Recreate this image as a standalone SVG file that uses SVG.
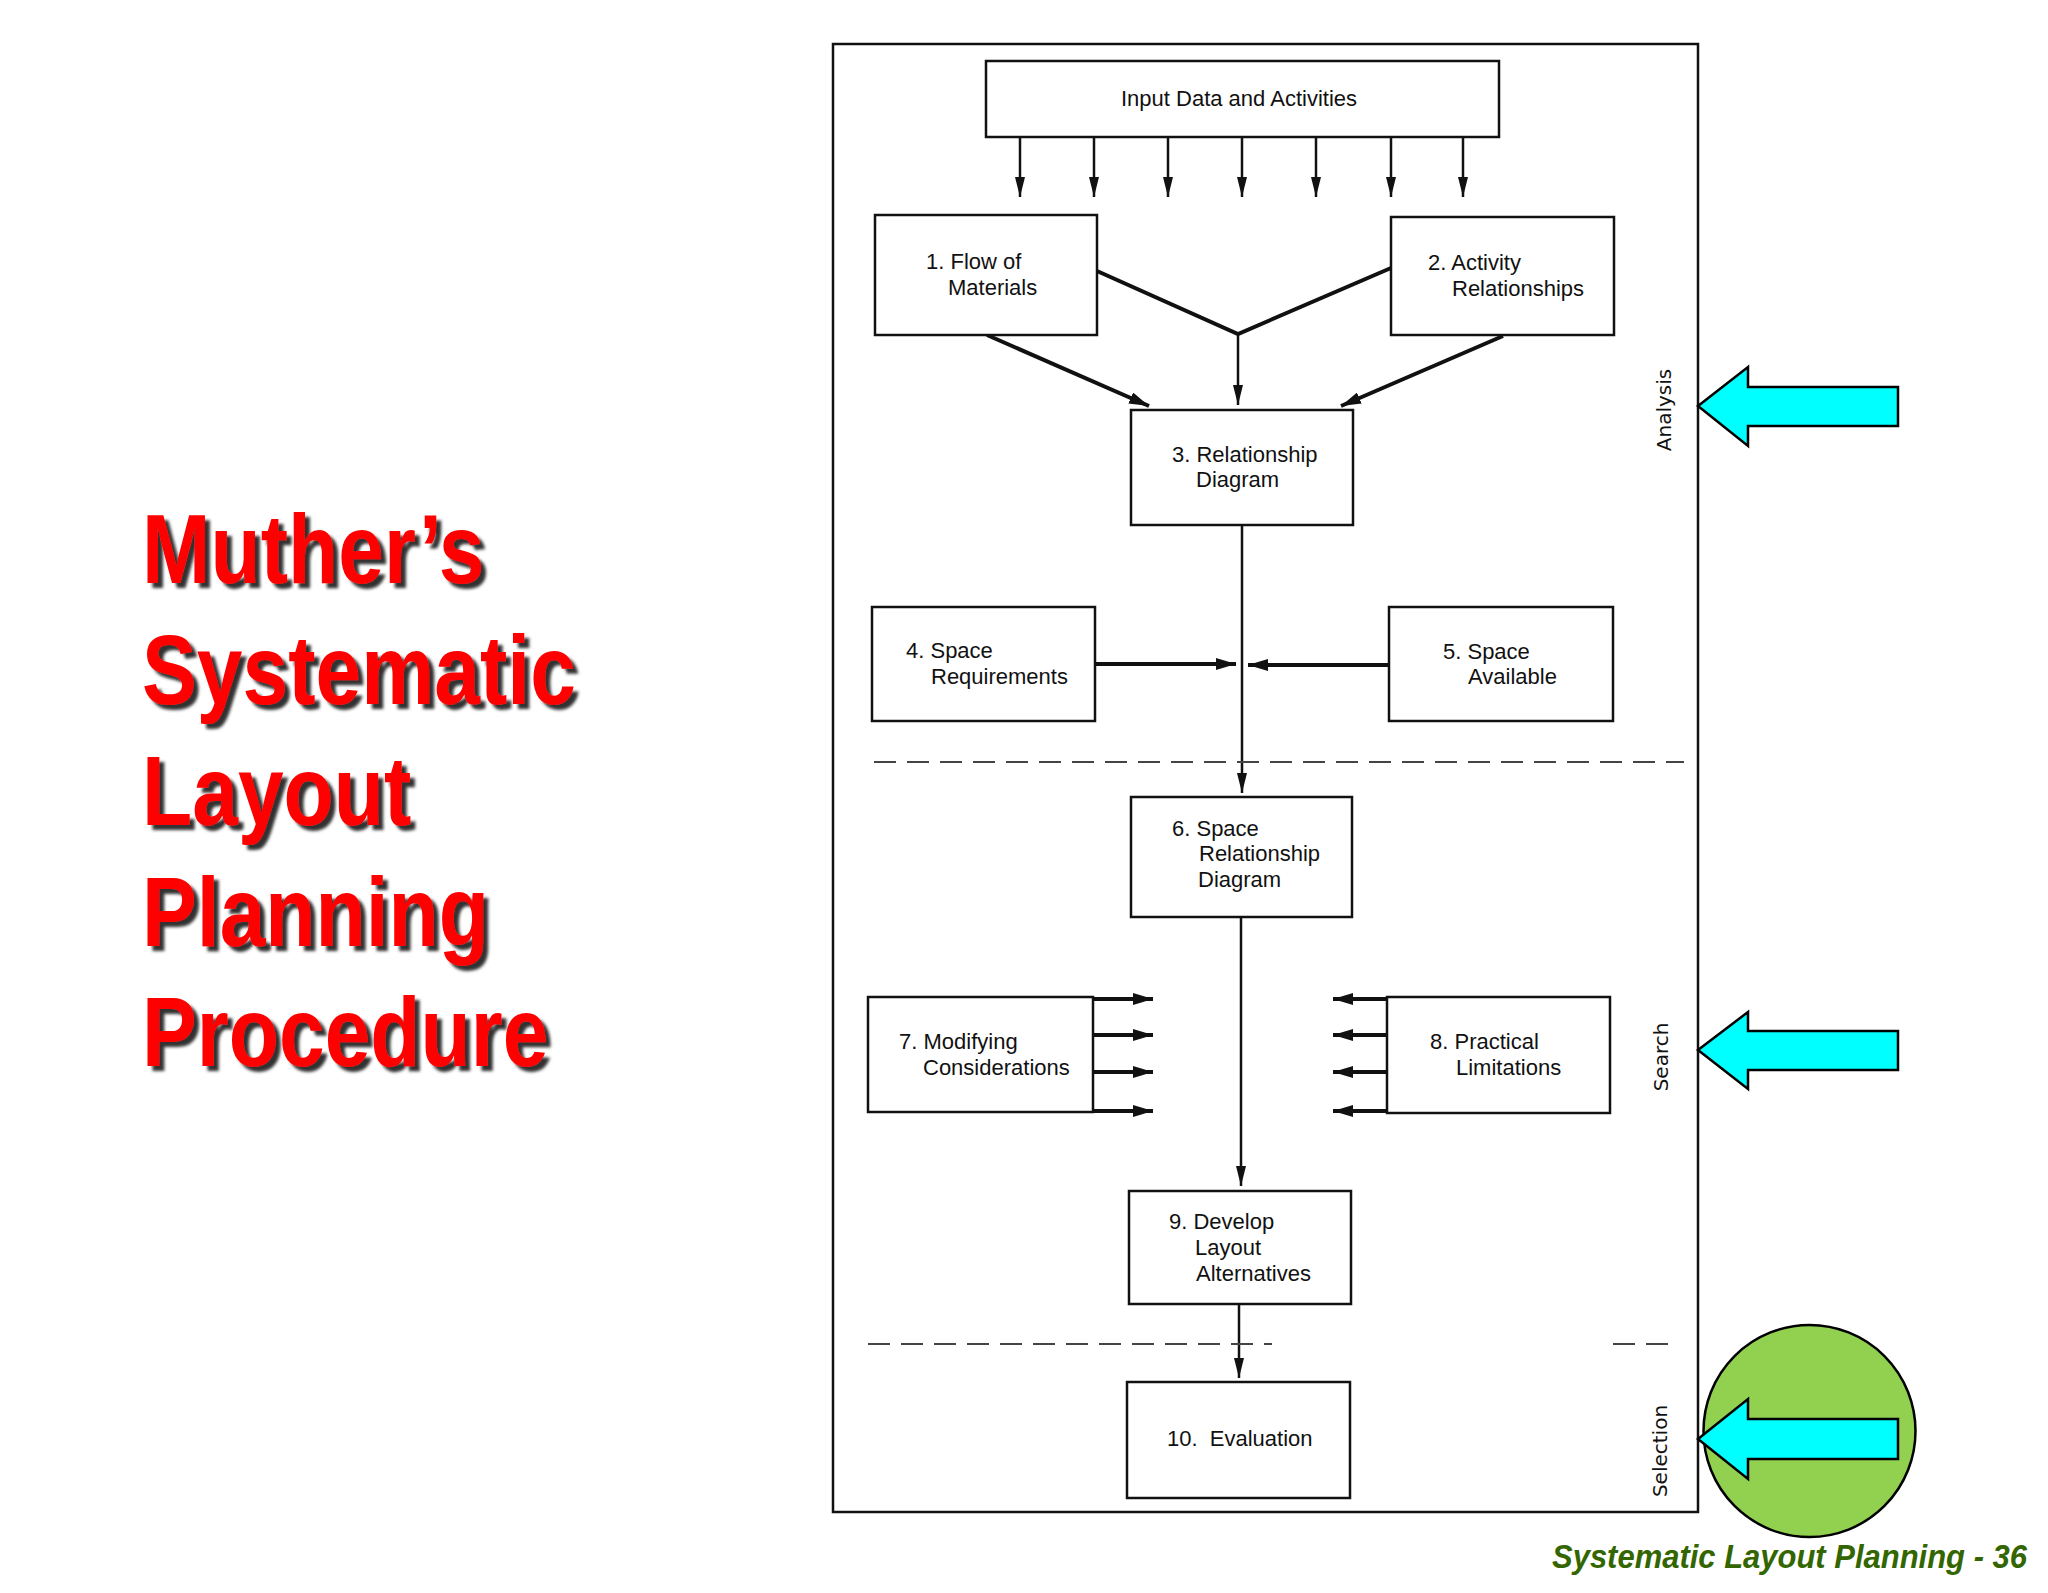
<svg xmlns="http://www.w3.org/2000/svg" width="2048" height="1593" viewBox="0 0 2048 1593">
<style>
.box{fill:#fff;stroke:#111;stroke-width:2.5}
.t{font-family:"Liberation Sans",Arial,sans-serif;font-size:22px;fill:#111}
.side{font-family:"DejaVu Sans",Verdana,sans-serif;font-size:20px;fill:#111;text-anchor:middle}
.thin{stroke:#111;stroke-width:2.5;fill:none}
.thick{stroke:#111;stroke-width:4;fill:none}
.dash{stroke:#444;stroke-width:2;stroke-dasharray:22 11;fill:none}
.cyan{fill:#00FFFF;stroke:#000;stroke-width:2.5;stroke-linejoin:miter}
.title{font-family:"Liberation Sans",Arial,sans-serif;font-weight:bold;font-size:99px;fill:#FF0000}
</style>
<defs>
<marker id="ah" viewBox="0 0 20 10" refX="20" refY="5" markerWidth="20" markerHeight="10" markerUnits="userSpaceOnUse" orient="auto">
<path d="M0,0 L20,5 L0,10 z" fill="#111"/>
</marker>
<marker id="ahb" viewBox="0 0 20 12" refX="20" refY="6" markerWidth="20" markerHeight="12" markerUnits="userSpaceOnUse" orient="auto">
<path d="M0,0 L20,6 L0,12 z" fill="#111"/>
</marker>
<filter id="shadow" x="-10%" y="-10%" width="130%" height="140%">
<feGaussianBlur in="SourceAlpha" stdDeviation="1.5"/>
<feOffset dx="5" dy="5" result="o"/>
<feFlood flood-color="#333"/>
<feComposite in2="o" operator="in"/>
<feMerge><feMergeNode/><feMergeNode in="SourceGraphic"/></feMerge>
</filter>
</defs>
<rect width="2048" height="1593" fill="#fff"/>

<g id="title" filter="url(#shadow)">
<text class="title" transform="translate(142 583) scale(0.83 1)">Muther’s</text>
<text class="title" transform="translate(142 704) scale(0.83 1)">Systematic</text>
<text class="title" transform="translate(142 825) scale(0.83 1)">Layout</text>
<text class="title" transform="translate(142 946) scale(0.83 1)">Planning</text>
<text class="title" transform="translate(142 1066) scale(0.83 1)">Procedure</text>
</g>

<rect id="frame" x="833" y="44" width="865" height="1468" fill="none" stroke="#111" stroke-width="2.5"/>

<g id="connectors">
<line class="thin" x1="1020" y1="137" x2="1020" y2="197" marker-end="url(#ah)"/>
<line class="thin" x1="1094" y1="137" x2="1094" y2="197" marker-end="url(#ah)"/>
<line class="thin" x1="1168" y1="137" x2="1168" y2="197" marker-end="url(#ah)"/>
<line class="thin" x1="1242" y1="137" x2="1242" y2="197" marker-end="url(#ah)"/>
<line class="thin" x1="1316" y1="137" x2="1316" y2="197" marker-end="url(#ah)"/>
<line class="thin" x1="1391" y1="137" x2="1391" y2="197" marker-end="url(#ah)"/>
<line class="thin" x1="1463" y1="137" x2="1463" y2="197" marker-end="url(#ah)"/>
<polyline class="thick" points="1097,271 1238,334 1391,268"/>
<line class="thin" x1="1238" y1="334" x2="1238" y2="405" marker-end="url(#ah)"/>
<line class="thick" x1="987" y1="335" x2="1149" y2="406" marker-end="url(#ahb)"/>
<line class="thick" x1="1503" y1="336" x2="1341" y2="406" marker-end="url(#ahb)"/>
<line class="thin" x1="1242" y1="525" x2="1242" y2="793" marker-end="url(#ah)"/>
<line class="thick" x1="1095" y1="664" x2="1236" y2="664" marker-end="url(#ahb)"/>
<line class="thick" x1="1389" y1="665" x2="1248" y2="665" marker-end="url(#ahb)"/>
<line class="dash" x1="874" y1="762" x2="1684" y2="762"/>
<line class="thin" x1="1241" y1="917" x2="1241" y2="1186" marker-end="url(#ah)"/>
<line class="thick" x1="1093" y1="999" x2="1153" y2="999" marker-end="url(#ahb)"/>
<line class="thick" x1="1093" y1="1035" x2="1153" y2="1035" marker-end="url(#ahb)"/>
<line class="thick" x1="1093" y1="1072" x2="1153" y2="1072" marker-end="url(#ahb)"/>
<line class="thick" x1="1093" y1="1111" x2="1153" y2="1111" marker-end="url(#ahb)"/>
<line class="thick" x1="1387" y1="999" x2="1333" y2="999" marker-end="url(#ahb)"/>
<line class="thick" x1="1387" y1="1035" x2="1333" y2="1035" marker-end="url(#ahb)"/>
<line class="thick" x1="1387" y1="1072" x2="1333" y2="1072" marker-end="url(#ahb)"/>
<line class="thick" x1="1387" y1="1111" x2="1333" y2="1111" marker-end="url(#ahb)"/>
<line class="thin" x1="1239" y1="1304" x2="1239" y2="1378" marker-end="url(#ah)"/>
<line class="dash" x1="868" y1="1344" x2="1272" y2="1344"/>
<line class="dash" x1="1613" y1="1344" x2="1670" y2="1344"/>
</g>

<g id="input">
<rect class="box" x="986" y="61" width="513" height="76"/>
<text class="t" x="1239" y="106" text-anchor="middle">Input Data and Activities</text>
</g>
<g id="n1">
<rect class="box" x="875" y="215" width="222" height="120"/>
<text class="t" x="926" y="269">1. Flow of</text>
<text class="t" x="948" y="295">Materials</text>
</g>
<g id="n2">
<rect class="box" x="1391" y="217" width="223" height="118"/>
<text class="t" x="1428" y="270">2. Activity</text>
<text class="t" x="1452" y="296">Relationships</text>
</g>
<g id="n3">
<rect class="box" x="1131" y="410" width="222" height="115"/>
<text class="t" x="1172" y="462">3. Relationship</text>
<text class="t" x="1196" y="487">Diagram</text>
</g>
<g id="n4">
<rect class="box" x="872" y="607" width="223" height="114"/>
<text class="t" x="906" y="658">4. Space</text>
<text class="t" x="931" y="684">Requirements</text>
</g>
<g id="n5">
<rect class="box" x="1389" y="607" width="224" height="114"/>
<text class="t" x="1443" y="659">5. Space</text>
<text class="t" x="1468" y="684">Available</text>
</g>
<g id="n6">
<rect class="box" x="1131" y="797" width="221" height="120"/>
<text class="t" x="1172" y="836">6. Space</text>
<text class="t" x="1199" y="861">Relationship</text>
<text class="t" x="1198" y="887">Diagram</text>
</g>
<g id="n7">
<rect class="box" x="868" y="997" width="225" height="115"/>
<text class="t" x="899" y="1049">7. Modifying</text>
<text class="t" x="923" y="1075">Considerations</text>
</g>
<g id="n8">
<rect class="box" x="1387" y="997" width="223" height="116"/>
<text class="t" x="1430" y="1049">8. Practical</text>
<text class="t" x="1456" y="1075">Limitations</text>
</g>
<g id="n9">
<rect class="box" x="1129" y="1191" width="222" height="113"/>
<text class="t" x="1169" y="1229">9. Develop</text>
<text class="t" x="1195" y="1255">Layout</text>
<text class="t" x="1196" y="1281">Alternatives</text>
</g>
<g id="n10">
<rect class="box" x="1127" y="1382" width="223" height="116"/>
<text class="t" x="1167" y="1446" xml:space="preserve">10.  Evaluation</text>
</g>

<g id="labels">
<text class="side" transform="translate(1671,410) rotate(-90)">Analysis</text>
<text class="side" transform="translate(1668,1057) rotate(-90)">Search</text>
<text class="side" transform="translate(1667,1451) rotate(-90)">Selection</text>
</g>

<circle id="selection-circle" cx="1809.5" cy="1431" r="106" fill="#92D050" stroke="#000" stroke-width="2.5"/>
<g id="cyan-arrows">
<polygon class="cyan" points="1698,406 1748,367 1748,387 1898,387 1898,426 1748,426 1748,446"/>
<polygon class="cyan" points="1698,1050 1748,1012 1748,1031 1898,1031 1898,1070 1748,1070 1748,1089"/>
<polygon class="cyan" points="1698,1439 1748,1399 1748,1419 1898,1419 1898,1459 1748,1459 1748,1479"/>
</g>

<text id="footer" x="1552" y="1568" textLength="475" lengthAdjust="spacingAndGlyphs" font-family="Liberation Sans, Arial, sans-serif" font-weight="bold" font-style="italic" font-size="33" fill="#336600">Systematic Layout Planning - 36</text>
</svg>
